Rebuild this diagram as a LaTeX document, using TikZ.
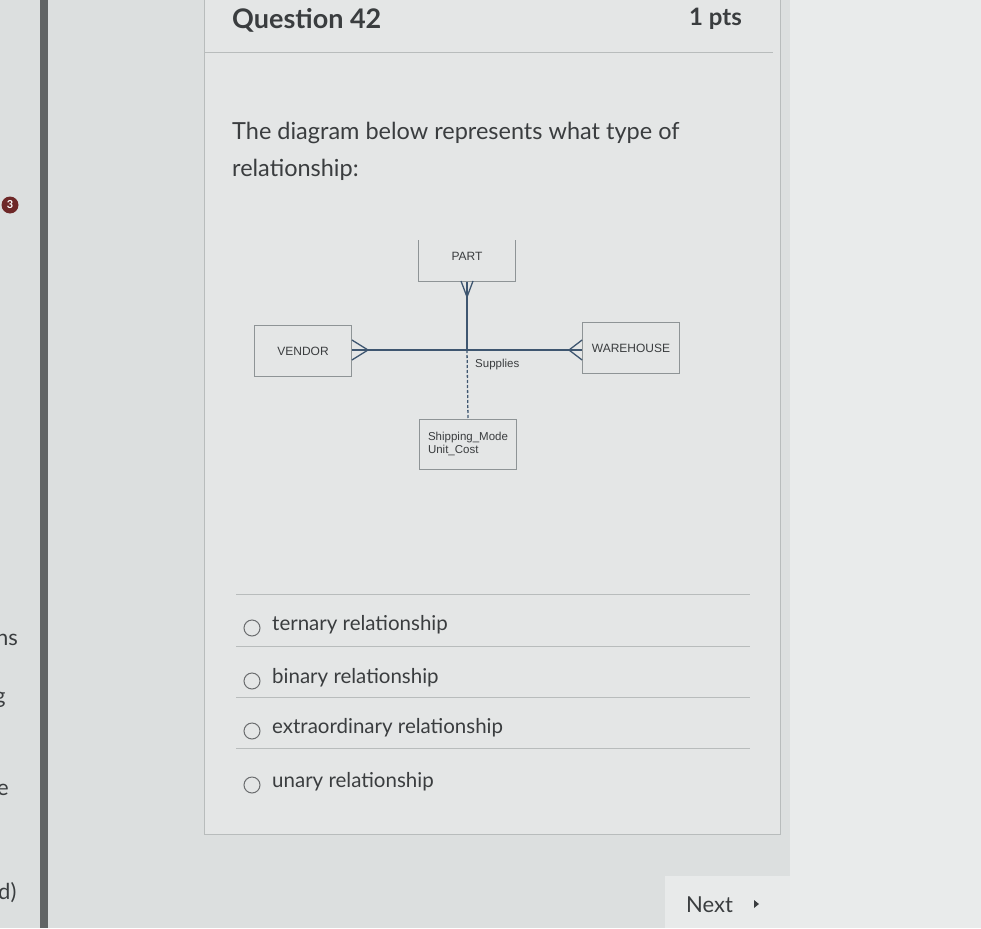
\documentclass[tikz,border=0pt]{standalone}
\usepackage{fontspec}
\setmainfont{Lato}
\newfontfamily\diag{Liberation Sans}
\definecolor{bgc}{HTML}{DCDFDF}
\definecolor{panel}{HTML}{E4E6E6}
\definecolor{edge}{HTML}{B8BCBC}
\definecolor{ink}{HTML}{3A3D3F}
\definecolor{erline}{HTML}{3E5670}
\definecolor{boxc}{HTML}{8E9496}
\definecolor{badgec}{HTML}{6E2828}
\tikzset{
  ui/.style={text=ink, inner sep=0pt, anchor=west},
  ent/.style={draw=boxc, line width=0.8pt, minimum width=97pt, minimum height=51pt, font=\diag\fontsize{12}{14}\selectfont, text=ink},
  rel/.style={draw=erline, line width=1.6pt},
  sep/.style={draw=edge, line width=0.7pt},
  radio/.style={draw=ink!75, line width=1pt, circle, minimum size=16pt, inner sep=0pt},
}
\begin{document}
\begin{tikzpicture}[x=1pt,y=-1pt]
\useasboundingbox (0,0) rectangle (981,928);
\fill[bgc] (0,0) rectangle (981,928);
\fill[panel!80!white] (790,0) rectangle (981,928);
% left dark bar
\fill[ink!80] (40,0) rectangle (48,928);
% main panel
\fill[panel] (204,0) rectangle (780,834);
\draw[edge, line width=0.8pt] (204,0) -- (204,834) -- (780,834) -- (780,0);
\draw[edge, line width=1pt] (204,53) -- (773,53);
\node[ui, font=\fontsize{27}{30}\selectfont\bfseries] (q) at (232,20) {Question 42};
\node[ui, anchor=east, font=\fontsize{24}{28}\selectfont\bfseries] (pts) at (742,19) {1 pts};
\node[ui, font=\fontsize{23.5}{26}\selectfont\bfseries] (l1) at (232,133) {\mdseries The diagram below represents what type of};
\node[ui, font=\fontsize{23.5}{26}\selectfont] (l2) at (232,170) {relationship:};
% badge
\node[circle, fill=badgec, minimum size=17pt, inner sep=0pt, text=white, font=\bfseries\fontsize{11}{12}\selectfont] (badge) at (10,205) {3};
% diagram
\node[ent] (vendor) at (303,351) {VENDOR};
\node[ent] (ware) at (631,348) {WAREHOUSE};
\node[draw=none, minimum width=96pt, minimum height=41pt] (part) at (467,261) {};
\node[font=\diag\fontsize{12}{14}\selectfont, text=ink] (partlbl) at (467,256) {PART};
\draw[boxc, line width=0.8pt] (part.north west) -- (part.south west) -- (part.south east) -- (part.north east);
\node[draw=boxc, line width=0.8pt, minimum width=97pt, minimum height=50pt, align=left, font=\diag\fontsize{11.5}{13.5}\selectfont, text=ink] (attr) at (468,444) {Shipping\_Mode\\Unit\_Cost};
\coordinate (hub) at (467,350);
\draw[rel] (vendor.east |- hub) -- (ware.west |- hub);
\draw[rel] (part.south) -- (hub);
% crow's feet
\draw[erline, line width=1.3pt] (vendor.east |- 0,340) -- (368,350) -- (vendor.east |- 0,360);
\draw[erline, line width=1.3pt] (ware.west |- 0,340) -- (569,350) -- (ware.west |- 0,360);
\draw[erline, line width=1.3pt] (461,281) -- (467,297) -- (473,281);
\draw[erline, line width=1.3pt, dash pattern=on 3pt off 2pt] (hub) -- (attr.north);
\node[font=\diag\fontsize{11.5}{13}\selectfont, text=ink, anchor=west, inner sep=0pt] (supp) at (475,365) {Supplies};
% options
\draw[sep] (236,594) -- (750,594);
\foreach \y/\t/\n in {625/ternary relationship/a, 678/binary relationship/b, 728/extraordinary relationship/c, 782/unary relationship/d}{
  \node[radio] (r\n) at (252,\y+3) {};
  \node[ui, font=\fontsize{20.5}{24}\selectfont, anchor=west] (o\n) at (272,\y) {\t};
}
\draw[sep] (236,646) -- (750,646);
\draw[sep] (236,697) -- (750,697);
\draw[sep] (236,748) -- (750,748);
% left cut-off text
\begin{scope}
\clip (0,0) rectangle (38,928);
\node[ui, font=\fontsize{22}{26}\selectfont] (t1) at (-4,640) {ns};
\node[ui, font=\fontsize{22}{26}\selectfont] (t2) at (-6,700) {g};
\node[ui, font=\fontsize{22}{26}\selectfont] (t3) at (-3,790) {e};
\node[ui, font=\fontsize{22}{26}\selectfont] (t4) at (-2,893) {d)};
\end{scope}
% next button
\fill[panel!85!white] (665,876) rectangle (790,928);
\node[ui, font=\fontsize{22}{26}\selectfont] (next) at (686,905) {Next};
\fill[ink] (754,900) -- (759,904) -- (754,908) -- cycle;
\end{tikzpicture}
\end{document}
